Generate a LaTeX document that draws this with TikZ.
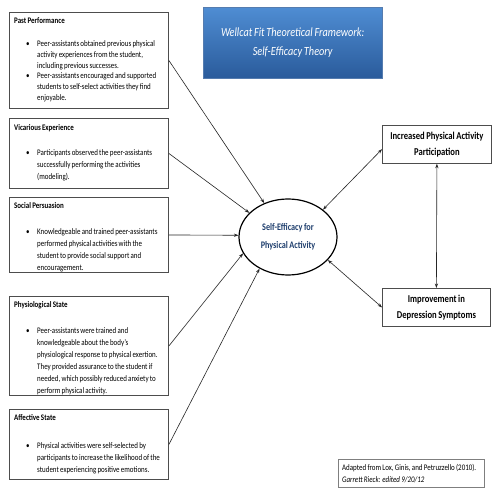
\documentclass[tikz,border=0pt]{standalone}
\usepackage{fontspec}
\setmainfont{Carlito}[FakeStretch=0.82, WordSpace=0.8]
\usetikzlibrary{shapes.geometric, arrows.meta, positioning}
\definecolor{framecol}{HTML}{4D4D4D}
\definecolor{notecol}{HTML}{7F7F7F}
\definecolor{titletop}{HTML}{4F8DD3}
\definecolor{titlebot}{HTML}{2A5B9B}
\definecolor{effblue}{HTML}{1F3F6E}
\newcommand{\bulletpt}[1]{\par\spaceskip=0pt\xspaceskip=0pt\noindent\hangindent=11pt\hangafter=1\makebox[11pt][l]{\textbullet}#1\par}
\tikzset{
    infobox/.style={rectangle, draw=framecol, line width=0.9pt, anchor=north west, minimum width=159pt, inner sep=0pt},
    boxhead/.style={anchor=base west, inner sep=0pt, font=\bfseries\fontsize{8.5}{10}\selectfont},
    boxbody/.style={text width=145pt, align=left, inner sep=0pt, font=\fontsize{8.5}{12}\selectfont},
    titlebox/.style={rectangle, draw=titlebot!80, top color=titletop, bottom color=titlebot, anchor=north west, minimum width=179pt, minimum height=71pt, align=center, text=white, font=\itshape\fontsize{12.5}{19.5}\selectfont},
    outcome/.style={rectangle, draw=framecol, line width=0.8pt, anchor=north west, minimum height=38pt, align=center, inner sep=0pt, font=\bfseries\fontsize{10.5}{16}\selectfont},
    efficacy/.style={ellipse, draw=black, line width=1.2pt, minimum width=98pt, minimum height=76pt, inner sep=0pt, align=center, text=effblue, font=\bfseries\fontsize{10}{18}\selectfont},
    notebox/.style={rectangle, draw=notecol, line width=0.8pt, anchor=north west, minimum width=146pt, minimum height=28pt, inner sep=0pt},
    arrow/.style={-{Stealth[length=4.5pt, width=3.2pt]}, line width=0.6pt, draw=black!85},
    twoway/.style={{Stealth[length=4.5pt, width=3.2pt]}-{Stealth[length=4.5pt, width=3.2pt]}, line width=0.6pt, draw=black!85}
}
\begin{document}
\begin{tikzpicture}[x=1pt, y=-1pt]
    \fill[white] (0,0) rectangle (495,495);
    \useasboundingbox (0,0) rectangle (495,495);

    \node (title) [titlebox] at (203,7) {Wellcat Fit Theoretical Framework:\\Self-Efficacy Theory};

    \node (past) [infobox, minimum height=96pt] at (9,12) {};
    \node (pasthead) [boxhead] at ([xshift=5pt, yshift=-12pt]past.north west) {Past Performance};
    \node (pastbody) [boxbody, font=\fontsize{8.5}{10.8}\selectfont, below right=23.5pt and 17pt of past.north west] {%
        \bulletpt{Peer-assistants obtained previous physical\newline activity experiences from the student,\newline including previous successes.}%
        \bulletpt{Peer-assistants encouraged and supported\newline students to self-select activities they find\newline enjoyable.}};

    \node (vic) [infobox, minimum height=70pt] at (9,118) {};
    \node (vichead) [boxhead] at ([xshift=5pt, yshift=-12pt]vic.north west) {Vicarious Experience};
    \node (vicbody) [boxbody, below right=25.5pt and 17pt of vic.north west] {%
        \bulletpt{Participants observed the peer-assistants\newline successfully performing the activities\newline (modeling).}};

    \node (soc) [infobox, minimum height=75pt] at (9,197) {};
    \node (sochead) [boxhead] at ([xshift=5pt, yshift=-11pt]soc.north west) {Social Persuasion};
    \node (socbody) [boxbody, below right=25.5pt and 17pt of soc.north west] {%
        \bulletpt{Knowledgeable and trained peer-assistants\newline performed physical activities with the\newline student to provide social support and\newline encouragement.}};

    \node (phys) [infobox, minimum height=99pt] at (9,296) {};
    \node (physhead) [boxhead] at ([xshift=5pt, yshift=-11pt]phys.north west) {Physiological State};
    \node (physbody) [boxbody, below right=25.5pt and 17pt of phys.north west] {%
        \bulletpt{Peer-assistants were trained and\newline knowledgeable about the body’s\newline physiological response to physical exertion.\newline They provided assurance to the student if\newline needed, which possibly reduced anxiety to\newline perform physical activity.}};

    \node (aff) [infobox, minimum height=70pt] at (9,409) {};
    \node (affhead) [boxhead] at ([xshift=5pt, yshift=-11pt]aff.north west) {Affective State};
    \node (affbody) [boxbody, below right=27pt and 17pt of aff.north west] {%
        \bulletpt{Physical activities were self-selected by\newline participants to increase the likelihood of the\newline student experiencing positive emotions.}};

    \node (eff) [efficacy] at (288,237) {Self-Efficacy for\\Physical Activity};

    \node (incr) [outcome, minimum width=109pt] at (382,125) {Increased Physical Activity\\Participation};
    \node (impr) [outcome, minimum width=108pt] at (382,288) {Improvement in\\Depression Symptoms};

    \node (note) [notebox] at (338,459) {};
    \node (notetext) [anchor=north west, inner sep=0pt, align=left, font=\fontsize{8.5}{12}\selectfont] at ([xshift=4pt, yshift=-5pt]note.north west) {Adapted from Lox, Ginis, and Petruzzello (2010).\\\textit{Garrett Rieck: edited 9/20/12}};

    \draw[arrow] (past.east) -- (eff.125);
    \draw[arrow] (vic.east) -- (eff.148);
    \draw[arrow] (soc.east) -- (eff.178);
    \draw[arrow] (phys.east) -- (eff.200);
    \draw[arrow] (aff.east) -- (eff.228);
    \draw[twoway] (eff.38) -- (incr.185);
    \draw[twoway] (eff.-30) -- (impr.west);
    \draw[twoway] (incr.south) -- (impr.north);
\end{tikzpicture}
\end{document}
